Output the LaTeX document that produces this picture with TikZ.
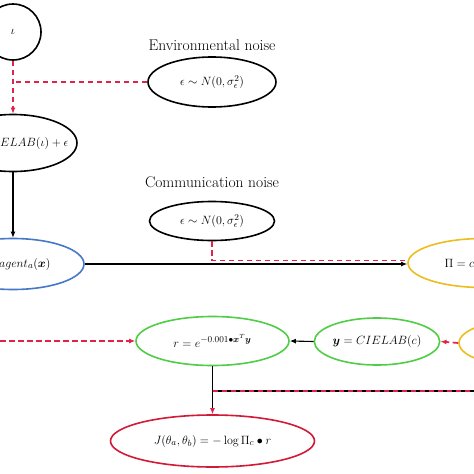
\documentclass[tikz,border=0pt]{standalone}
\usepackage{bm}
\usetikzlibrary{arrows.meta,shapes.geometric}
\definecolor{dred}{RGB}{225,35,75}
\definecolor{eblue}{RGB}{70,120,200}
\definecolor{eyellow}{RGB}{235,190,30}
\definecolor{egreen}{RGB}{80,205,70}
\definecolor{ered}{RGB}{210,25,55}
\begin{document}
\begin{tikzpicture}[x=1pt,y=-1pt,
  ell/.style={draw, ellipse, line width=1.6pt, inner sep=0pt},
  mtext/.style={font=\fontsize{13}{15}\selectfont},
  lbl/.style={font=\fontsize{15.5}{18}\selectfont},
  redash/.style={draw=dred, line width=1.7pt, dash pattern=on 5.5pt off 3.5pt},
  tipr/.style={-{Latex[length=6pt,width=5pt,color=dred]}},
  tipk/.style={-{Latex[length=6pt,width=5pt,color=black]}},
  blk/.style={draw=black, line width=1.1pt}]
\useasboundingbox (0,0) rectangle (474,474);
\clip (0,0) rectangle (474,474);
% nodes
\node[draw, circle, line width=1.6pt, minimum size=56pt, mtext] (iota) at (13,32) {$\iota$};
\node[lbl] (envl) at (212,45) {Environmental noise};
\node[ell, minimum width=128pt, minimum height=50pt, mtext] (env) at (212,82) {$\epsilon\sim N(0,\sigma_\epsilon^2)$};
\node[ell, minimum width=128pt, minimum height=57pt] (cie) at (13,143) {};
\node[mtext, anchor=east] (ciet) at (72,143) {$CIELAB(\iota)+\epsilon$};
\node[lbl] (coml) at (212,182) {Communication noise};
\node[ell, minimum width=125pt, minimum height=39pt, mtext] (com) at (212,221) {$\epsilon\sim N(0,\sigma_\epsilon^2)$};
\node[ell, draw=eblue, minimum width=142pt, minimum height=51pt] (agent) at (13,264) {};
\node[mtext, anchor=east] (agentt) at (54,264) {$agent_a(\bm{x})$};
\node[ell, draw=eyellow, minimum width=150pt, minimum height=49pt] (pi) at (483,263) {};
\node[mtext, anchor=west] (pit) at (441,263) {$\Pi = c$};
\node[ell, draw=egreen, minimum width=153pt, minimum height=49pt, mtext] (r) at (212.5,341) {$r = e^{-0.001\bullet\bm{x}^T\bm{y}}$};
\node[ell, draw=egreen, minimum width=114pt, minimum height=47pt, mtext] (y) at (377,341.5) {$\bm{y} = CIELAB(c)$};
\node[ell, draw=eyellow, minimum width=140pt, minimum height=48pt] (y2) at (529,343) {};
\node[ell, draw=ered, minimum width=204pt, minimum height=52pt, mtext] (J) at (212.5,441) {$J(\theta_a,\theta_b) = -\log\Pi_c\bullet r$};
\coordinate (lin) at (0,341);
\coordinate (rr) at (474,391);
% connectors
\draw[redash, tipr] (iota.south) -- (cie.north);
\draw[redash] (env.west) -- (env.west -| iota.south);
\draw[blk, tipk] (cie.south) -- (agent.north);
\draw[blk, tipk] (agent.east) -- (agent.east -| pi.west);
\draw[redash] (com.south) |- ([yshift=2.5pt]pi.west);
\draw[redash, tipr] (lin) -- (r.west);
\draw[blk, tipk] (y.west) -- (r.east);
\draw[redash, tipr] (y2.west) -- (y.east);
\draw[blk, tipr] (r.south) -- (J.north);
\draw[blk] (r.south |- rr) -- (rr);
\draw[redash] (r.south |- rr) -- (rr);
\end{tikzpicture}
\end{document}
